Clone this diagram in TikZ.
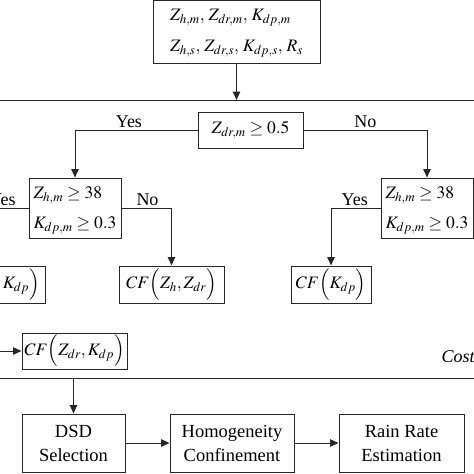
\documentclass[tikz,border=0pt]{standalone}
\usepackage{mathptmx}
\usepackage{fontspec}
\setmainfont{Liberation Serif}
\usetikzlibrary{arrows.meta}
\tikzset{
  box/.style={draw=black!85, line width=1pt, inner sep=0pt, align=center, font=\fontsize{17.5}{22}\selectfont},
  tbox/.style={box, font=\fontsize{18.5}{24}\selectfont},
  txt/.style={inner sep=0pt, align=left, font=\fontsize{17.5}{22}\selectfont},
  arr/.style={draw=black!85, line width=1pt, -{Triangle[length=8.5pt,width=7.5pt]}},
  ln/.style={draw=black!85, line width=1pt},
  lbl/.style={font=\fontsize{18}{20}\selectfont, anchor=south, inner sep=1.5pt}
}
\begin{document}
\begin{tikzpicture}[x=1pt,y=-1pt]
\useasboundingbox (0,0) rectangle (474,474);
\clip (0,0) rectangle (474,474);
% input box
\node[box, minimum width=167pt, minimum height=63pt] (top) at (236.5,31.5) {};
\node[txt] (toptxt) at (236.5,33.5)
  {$Z_{h,m},\,Z_{dr,m},\,K_{dp,m}$\\[9pt] $Z_{h,s},\,Z_{dr,s},\,K_{dp,s},\,R_s$};
% separators
\draw[ln] (0,100) -- (474,100);
\draw[ln] (0,378) -- (474,378);
\coordinate (t1) at (236.5,100);
\draw[arr] (top.south) -- (t1);
% decision
\node[box, minimum width=105pt, minimum height=36pt] (D1) at (250.5,130) {$Z_{dr,m}\geq 0.5$};
\node[box, minimum width=92pt, minimum height=60pt] (L) at (75,208) {};
\node[txt] (Ltxt) at (75,210.5) {$Z_{h,m}\geq 38$\\[8pt]$K_{dp,m}\geq 0.3$};
\node[box, minimum width=92pt, minimum height=60pt] (R) at (427,208) {};
\node[txt] (Rtxt) at (427,210.5) {$Z_{h,m}\geq 38$\\[8pt]$K_{dp,m}\geq 0.3$};
\draw[arr] (D1.west) -| node[lbl, pos=0.28] {Yes} (L.north);
\draw[arr] (D1.east) -| node[lbl, pos=0.25] {No} (R.north);
% results
\node[box, minimum width=105pt, minimum height=37pt] (cfl) at (-7.5,284.5) {$CF\Bigl(Z_h,K_{dp}\Bigr)$};
\node[box, minimum width=105pt, minimum height=37pt] (cf1) at (171.5,284.5) {$CF\Bigl(Z_h,Z_{dr}\Bigr)$};
\node[box, minimum width=80pt, minimum height=37pt] (cf2) at (331,284.5) {$CF\Bigl(K_{dp}\Bigr)$};
\draw[arr] (L.west) -| node[lbl, pos=0.36] {Yes} (cfl.north);
\draw[arr] (L.east) -| node[lbl, pos=0.26] {No} (cf1.north);
\draw[arr] (R.west) -| node[lbl, pos=0.26] {Yes} (cf2.north);
\node[box, minimum width=105pt, minimum height=36pt] (cf3) at (74.5,351) {$CF\Bigl(Z_{dr},K_{dp}\Bigr)$};
\coordinate (in3) at (-10,351);
\draw[arr] (in3) -- (cf3.west);
\node[anchor=west, inner sep=0pt, font=\fontsize{18}{20}\selectfont\itshape] (cost) at (441.5,357) {Cost};
% bottom chain
\node[tbox, minimum width=103pt, minimum height=58pt] (dsd) at (73.5,443) {DSD\\Selection};
\node[tbox, minimum width=124pt, minimum height=58pt] (hom) at (232,443) {Homogeneity\\Confinement};
\node[tbox, minimum width=125pt, minimum height=58pt] (rain) at (401.5,443) {Rain Rate\\Estimation};
\coordinate (t2) at (73.5,378);
\draw[arr] (t2) -- (dsd.north);
\draw[arr] (dsd.east) -- (hom.west);
\draw[arr] (hom.east) -- (rain.west);
\end{tikzpicture}
\end{document}
